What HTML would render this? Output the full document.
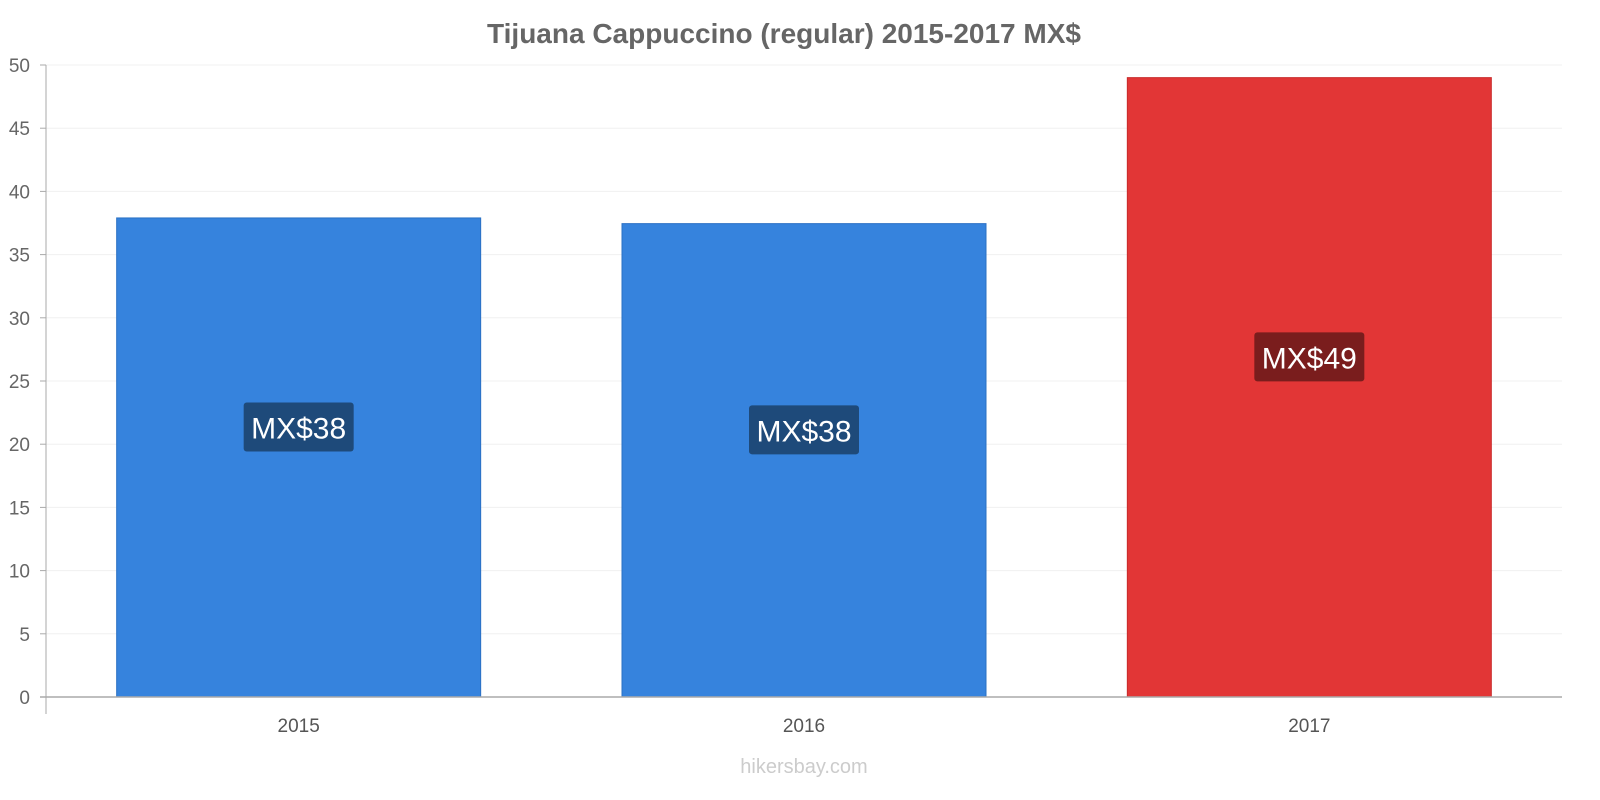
<!DOCTYPE html>
<html>
<head>
<meta charset="utf-8">
<style>
html,body{margin:0;padding:0;background:#fff;}
svg{display:block;font-family:"Liberation Sans",Arial,sans-serif;}
</style>
</head>
<body>
<svg id="chart" width="1600" height="800" viewBox="0 0 1600 800">
  <text x="784" y="43" text-anchor="middle" font-size="28" font-weight="bold" fill="#666">Tijuana Cappuccino (regular) 2015-2017 MX$</text>
  <g id="grid"></g>
  <g id="yaxis"></g>
  <g id="bars"></g>
  <g id="xaxis"></g>
  <text x="804" y="773" text-anchor="middle" font-size="20" fill="#ccc">hikersbay.com</text>
</svg>
<script>
const categories = ["2015", "2016", "2017"];
const values = [37.9, 37.45, 49];
const valueLabels = ["MX$38", "MX$38", "MX$49"];
const yTicks = [0, 5, 10, 15, 20, 25, 30, 35, 40, 45, 50];

const NS = "http://www.w3.org/2000/svg";
const plotLeft = 46, plotRight = 1562, y0 = 697, y50 = 65, yMax = 50;
const yScale = v => y0 - (v / yMax) * (y0 - y50);
const band = (plotRight - plotLeft) / categories.length;
const xCenter = i => plotLeft + band * (i + 0.5);
const barW = 364;

function mk(tag, attrs, parent) {
  const el = document.createElementNS(NS, tag);
  for (const k in attrs) el.setAttribute(k, attrs[k]);
  parent.appendChild(el);
  return el;
}
const grid = document.getElementById('grid');
const yaxis = document.getElementById('yaxis');
const bars = document.getElementById('bars');
const xaxis = document.getElementById('xaxis');

yTicks.forEach(t => {
  const y = yScale(t);
  if (t > 0) {
    const g = mk('line', {x1: plotLeft, x2: plotRight, y1: y, y2: y, stroke: '#f0f0f0', 'stroke-width': 1}, grid);
    
    
  }
  const tk = mk('line', {x1: 40, x2: plotLeft, y1: y, y2: y, stroke: '#aaa', 'stroke-width': 1}, yaxis);
  
  
  const lb = mk('text', {x: 30, y: y + 7, 'text-anchor': 'end', 'font-size': 19, fill: '#666'}, yaxis);
  lb.textContent = t;
  
  
});
const axl = mk('line', {x1: plotLeft, x2: plotLeft, y1: y50, y2: 714, stroke: '#aaa', 'stroke-width': 1}, yaxis);



categories.forEach((c, i) => {
  const v = values[i];
  const cx = xCenter(i);
  const top = yScale(v);
  const isMax = v === Math.max(...values);
  const fill = isMax ? '#e23636' : '#3683dd';
  const stroke = isMax ? '#c92a2a' : '#2a70c4';
  const r = mk('rect', {x: cx - barW / 2, y: top, width: barW, height: y0 - top, fill: fill, stroke: stroke, 'stroke-width': 1}, bars);
  
  
  const ly = (top + y0) / 2 - 30;
  const box = mk('rect', {x: cx - 55, y: ly - 25, width: 110, height: 49, rx: 3, fill: isMax ? '#7a1d1d' : '#1e4a7a'}, bars);
  
  
  const t = mk('text', {x: cx, y: ly + 11, 'text-anchor': 'middle', 'font-size': 30, fill: '#fff'}, bars);
  t.textContent = valueLabels[i];
  
  
  const xl = mk('text', {x: cx, y: 732, 'text-anchor': 'middle', 'font-size': 19, fill: '#555'}, xaxis);
  xl.textContent = c;
  
  
});
const base = mk('line', {x1: 40, x2: plotRight, y1: y0, y2: y0, stroke: '#aaa', 'stroke-width': 1.5}, xaxis);


</script>
</body>
</html>
